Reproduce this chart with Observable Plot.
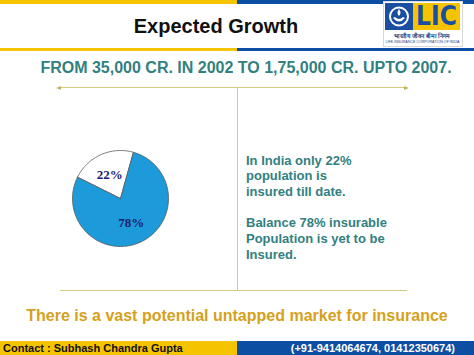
<!DOCTYPE html>
<html>
<head>
<meta charset="utf-8">
<script src="https://cdn.jsdelivr.net/npm/d3@7"></script>
<script src="https://cdn.jsdelivr.net/npm/@observablehq/plot@0.6"></script>
<style>
  html, body { margin: 0; padding: 0; background: #fff; }
  #slide { position: relative; width: 474px; height: 355px; overflow: hidden; background: #fff;
           font-family: "Liberation Sans", Arial, sans-serif; }
  .abs { position: absolute; }
  .teal { color: #32807f; font-weight: bold; }
</style>
</head>
<body>
<div id="slide">
  <!-- header bars -->
  <div class="abs" style="left:0;top:0;width:237px;height:4px;background:#f6c300"></div>
  <div class="abs" style="left:237px;top:0;width:237px;height:4px;background:#0b4ea2"></div>
  <div class="abs" style="left:0;top:48px;width:237px;height:3px;background:#f6c300"></div>
  <div class="abs" style="left:237px;top:48px;width:237px;height:3px;background:#0b4ea2"></div>

  <div id="title" class="abs" style="left:66px;top:16px;width:300px;text-align:center;font-size:20px;line-height:20px;font-weight:bold;color:#111"></div>

  <!-- logo -->
  <div class="abs" style="left:383px;top:1px;width:78px;height:44px;background:#fff;border:1px solid #d8d8d8"></div>
  <div class="abs" style="left:385px;top:3px;width:28px;height:27px;background:#1a4fa0">
    <svg width="28" height="27" viewBox="0 0 28 27">
      <circle cx="14" cy="13.5" r="9" fill="none" stroke="#fff" stroke-width="2"/>
      <path d="M8 15 Q14 22 20 15 L18 14 Q14 18 10 14 Z" fill="#fff"/>
      <path d="M14 6 Q11 10 14 13 Q17 10 14 6 Z" fill="#fff"/>
    </svg>
  </div>
  <div class="abs" style="left:413px;top:3px;width:47px;height:27px;background:#f6c300"></div>
  <div id="logoText" class="abs" style="left:413px;top:4px;width:47px;text-align:center;font-family:'Liberation Sans Narrow','DejaVu Sans Condensed',sans-serif;font-weight:bold;font-size:26px;line-height:24px;color:#1a4fa0"></div>
  <div id="logoHindi" class="abs" style="left:385px;top:32.5px;width:75px;text-align:center;font-size:6px;line-height:6px;font-weight:bold;color:#1a3f80;white-space:nowrap"></div>
  <div id="logoEng" class="abs" style="left:385px;top:39.5px;width:75px;text-align:center;font-size:3.6px;line-height:4px;color:#1a3f80;white-space:nowrap"></div>

  <div id="subtitle" class="abs teal" style="left:0;top:59.5px;width:492px;text-align:center;font-size:16px;line-height:16px;white-space:nowrap"></div>

  <!-- bracket lines -->
  <div class="abs" style="left:58px;top:87px;width:349px;height:1px;background:#d4cc80"></div>
  <div class="abs" style="left:56px;top:85.5px;width:0;height:0;border-top:2px solid transparent;border-bottom:2px solid transparent;border-right:5px solid #bdb560"></div>
  <div class="abs" style="left:404px;top:85.5px;width:0;height:0;border-top:2px solid transparent;border-bottom:2px solid transparent;border-left:5px solid #bdb560"></div>
  <div class="abs" style="left:237px;top:87px;width:1px;height:203px;background:#d4cc80"></div>
  <div class="abs" style="left:60px;top:290px;width:347px;height:1px;background:#d4cc80"></div>

  <div id="pie" class="abs" style="left:60px;top:138px;"></div>

  <div id="note" class="abs teal" style="left:246px;top:152.6px;font-size:13px;line-height:15.7px;white-space:nowrap"></div>

  <div id="tagline" class="abs" style="left:0;top:308px;width:474px;text-align:center;font-size:16px;line-height:16px;font-weight:bold;color:#d5a11c;white-space:nowrap"></div>

  <!-- footer -->
  <div class="abs" style="left:0;top:341px;width:237px;height:14px;background:#f6c300"></div>
  <div class="abs" style="left:237px;top:341px;width:237px;height:14px;background:#0b4ea2"></div>
  <div id="contact" class="abs" style="left:3px;top:342.7px;font-size:11px;line-height:11px;font-weight:bold;color:#111;white-space:nowrap"></div>
  <div id="phone" class="abs" style="left:237px;top:342.7px;width:218px;text-align:right;font-size:11px;line-height:11px;font-weight:bold;color:#fff;white-space:nowrap"></div>
</div>

<script>
// ---- texts ----
const titleText = "Expected Growth";
const subtitleText = "FROM 35,000 CR. IN 2002 TO 1,75,000 CR. UPTO 2007.";
const noteLines = ["In India only 22%", "population is", "insured till date.", "", "Balance 78% insurable", "Population is yet to be", "Insured."];
const taglineText = "There is a vast potential untapped market for insurance";
const contactText = "Contact : Subhash Chandra Gupta";
const phoneText = "(+91-9414064674, 01412350674)";
const logoTexts = ["LIC", "भारतीय जीवन बीमा निगम", "LIFE INSURANCE CORPORATION OF INDIA"];

// ---- chart data ----
const categories = ["Insured till date", "Yet to be insured"];
const shares = [22, 78];
const shareLabels = ["22%", "78%"];

document.getElementById("title").textContent = titleText;
document.getElementById("subtitle").textContent = subtitleText;
document.getElementById("note").innerHTML = noteLines.map(s => s === "" ? "&nbsp;" : s).join("<br>");
document.getElementById("tagline").textContent = taglineText;
document.getElementById("contact").textContent = contactText;
document.getElementById("phone").textContent = phoneText;
document.getElementById("logoText").textContent = logoTexts[0];
document.getElementById("logoHindi").textContent = logoTexts[1];
document.getElementById("logoEng").textContent = logoTexts[2];

// ---- pie built from the data ----
const start = -63.6 * Math.PI / 180;
const arcs = d3.pie().sort(null).startAngle(start).endAngle(start + 2 * Math.PI)(shares);
const outline = [];
arcs.forEach((a, i) => {
  const slice = categories[i];
  outline.push({slice, x: 0, y: 0});
  const n = Math.max(2, Math.ceil((a.endAngle - a.startAngle) / 0.03));
  for (let k = 0; k <= n; k++) {
    const t = a.startAngle + (a.endAngle - a.startAngle) * k / n;
    outline.push({slice, x: Math.sin(t), y: Math.cos(t)});
  }
  outline.push({slice, x: 0, y: 0});
});
const labelR = 0.55;
const labelData = arcs.map((a, i) => {
  const m = (a.startAngle + a.endAngle) / 2;
  return {slice: categories[i], label: shareLabels[i], x: labelR * Math.sin(m), y: labelR * Math.cos(m)};
});

const chart = Plot.plot({
  width: 120,
  height: 120,
  margin: 0,
  x: {domain: [-1.25, 1.25], axis: null},
  y: {domain: [-1.25, 1.25], axis: null},
  color: {domain: categories, range: ["#ffffff", "#1c9ad9"]},
  style: {background: "transparent", overflow: "visible"},
  marks: [
    Plot.line(outline, {x: "x", y: "y", z: "slice", fill: "slice", stroke: "#5a5a5a", strokeWidth: 0.8, curve: "linear"}),
    Plot.text(labelData, {x: "x", y: "y", text: "label", fontFamily: "'Liberation Serif', 'Times New Roman', serif",
      fontWeight: "bold", fontSize: 13, fill: "#1d1d6e"})
  ]
});
document.getElementById("pie").appendChild(chart);
</script>
</body>
</html>
